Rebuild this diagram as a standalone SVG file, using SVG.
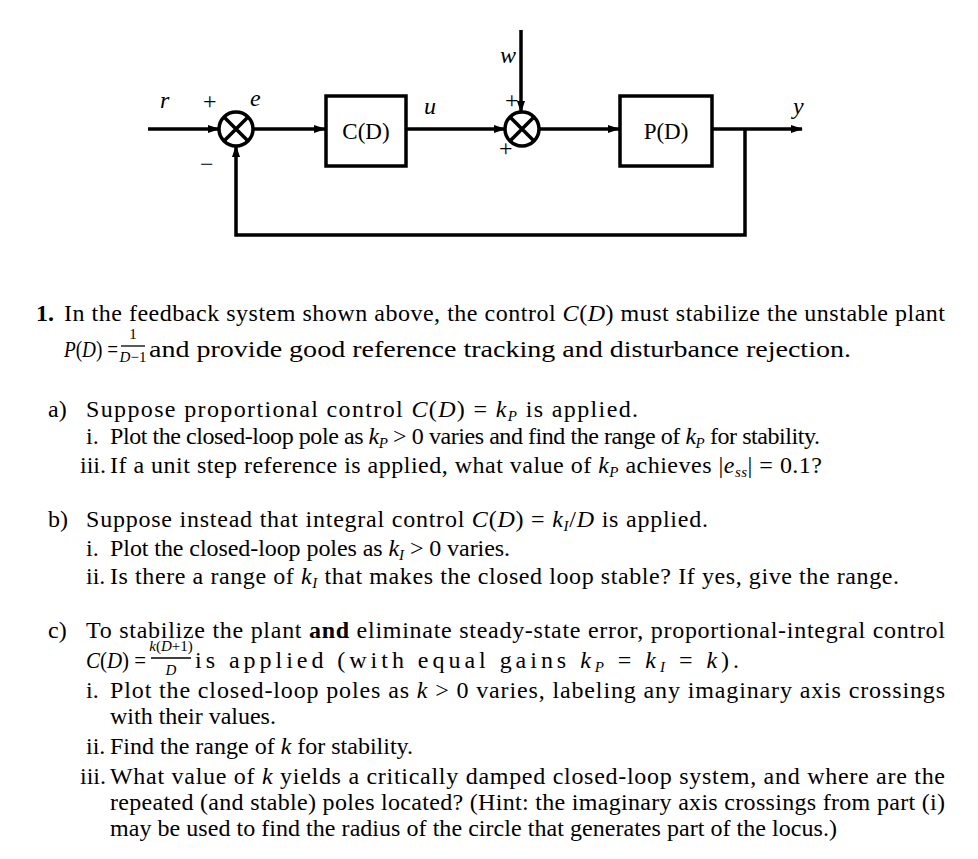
<svg xmlns="http://www.w3.org/2000/svg" width="978" height="859" viewBox="0 0 978 859">
<style>
text{font-family:"Liberation Serif","Times New Roman",serif;font-size:24px;fill:#000}
.m{font-style:italic}
.s{font-size:15px}
.lbl{font-size:23px}
.w{fill:none;stroke:#000;stroke-width:3.5}
</style>
<defs><marker id="a" markerWidth="12" markerHeight="10" refX="11" refY="5" orient="auto" markerUnits="userSpaceOnUse"><path d="M0,1L12,5L0,9z" fill="#000"/></marker></defs>
<rect width="978" height="859" fill="#fff"/>
<g id="sum1"><circle cx="236" cy="129" r="17" class="w"/><path d="M224,117L248,141M248,117L224,141" class="w"/></g>
<g id="sum2"><circle cx="522" cy="129" r="17" class="w"/><path d="M510,117L534,141M534,117L510,141" class="w"/></g>
<g id="C"><rect x="326" y="96" width="80" height="70" class="w" stroke-width="3"/><text x="366" y="139" text-anchor="middle" class="lbl">C(D)</text></g>
<g id="P"><rect x="620" y="96" width="92" height="70" class="w" stroke-width="3"/><text x="666" y="139" text-anchor="middle" class="lbl">P(D)</text></g>
<g id="connectors" class="w">
<path d="M148,129H219" marker-end="url(#a)"/>
<path d="M253,129H325" marker-end="url(#a)"/>
<path d="M406,129H505" marker-end="url(#a)"/>
<path d="M521,30V112" marker-end="url(#a)"/>
<path d="M539,129H619" marker-end="url(#a)"/>
<path d="M712,129H802" marker-end="url(#a)"/>
<path d="M745,129V235H236V146" marker-end="url(#a)"/>
</g>
<g id="labels" class="lbl">
<text x="160" y="108" class="m">r</text><text x="203" y="109">+</text><text x="200" y="172">−</text>
<text x="250" y="106" class="m">e</text>
<text x="424" y="114" class="m">u</text>
<text x="500" y="63" class="m">w</text><text x="505" y="108">+</text><text x="499" y="156">+</text>
<text x="793" y="114" class="m">y</text>
</g>
<g id="text">
<text x="36" y="321"><tspan font-weight="bold">1.</tspan></text>
<text x="64" y="321" textLength="881" lengthAdjust="spacing">In the feedback system shown above, the control <tspan class="m">C</tspan>(<tspan class="m">D</tspan>) must stabilize the unstable plant</text>
<text x="64" y="357" textLength="54" lengthAdjust="spacingAndGlyphs"><tspan class="m">P</tspan>(<tspan class="m">D</tspan>) =</text>
<text x="133" y="339" class="s" text-anchor="middle">1</text>
<line x1="121" y1="346" x2="145" y2="346" stroke="#000" stroke-width="1.3"/>
<text x="133" y="362" class="s m" text-anchor="middle">D<tspan font-style="normal">−1</tspan></text>
<text x="149" y="357" textLength="702" lengthAdjust="spacingAndGlyphs">and provide good reference tracking and disturbance rejection.</text>

<text x="48" y="417">a)</text><text x="86" y="417" textLength="552" lengthAdjust="spacing">Suppose proportional control <tspan class="m">C</tspan>(<tspan class="m">D</tspan>) = <tspan class="m">k<tspan class="s" dy="4">P</tspan></tspan><tspan dy="-4"> is applied.</tspan></text>
<text x="86" y="444">i.</text><text x="110" y="444" textLength="710" lengthAdjust="spacing">Plot the closed-loop pole as <tspan class="m">k<tspan class="s" dy="4">P</tspan></tspan><tspan dy="-4"> &gt; 0 varies and find the range of </tspan><tspan class="m">k<tspan class="s" dy="4">P</tspan></tspan><tspan dy="-4"> for stability.</tspan></text>
<text x="80" y="473">iii.</text><text x="110" y="473" textLength="712" lengthAdjust="spacing">If a unit step reference is applied, what value of <tspan class="m">k<tspan class="s" dy="4">P</tspan></tspan><tspan dy="-4"> achieves |</tspan><tspan class="m">e<tspan class="s" dy="4">ss</tspan></tspan><tspan dy="-4">| = 0.1?</tspan></text>

<text x="48" y="527">b)</text><text x="86" y="527" textLength="622" lengthAdjust="spacing">Suppose instead that integral control <tspan class="m">C</tspan>(<tspan class="m">D</tspan>) = <tspan class="m">k<tspan class="s" dy="4">I</tspan></tspan><tspan dy="-4">/</tspan><tspan class="m">D</tspan> is applied.</text>
<text x="86" y="556">i.</text><text x="110" y="556" textLength="400" lengthAdjust="spacing">Plot the closed-loop poles as <tspan class="m">k<tspan class="s" dy="4">I</tspan></tspan><tspan dy="-4"> &gt; 0 varies.</tspan></text>
<text x="86" y="584">ii.</text><text x="110" y="584" textLength="789" lengthAdjust="spacing">Is there a range of <tspan class="m">k<tspan class="s" dy="4">I</tspan></tspan><tspan dy="-4"> that makes the closed loop stable? If yes, give the range.</tspan></text>

<text x="48" y="638">c)</text><text x="86" y="638" textLength="859" lengthAdjust="spacing">To stabilize the plant <tspan font-weight="bold">and</tspan> eliminate steady-state error, proportional-integral control</text>
<text x="86" y="668" textLength="60" lengthAdjust="spacingAndGlyphs"><tspan class="m">C</tspan>(<tspan class="m">D</tspan>) =</text>
<text x="171" y="651" class="s m" text-anchor="middle">k<tspan font-style="normal">(</tspan>D<tspan font-style="normal">+1)</tspan></text>
<line x1="151" y1="658" x2="191" y2="658" stroke="#000" stroke-width="1.3"/>
<text x="171" y="675" class="s m" text-anchor="middle">D</text>
<text x="195" y="668" textLength="544" lengthAdjust="spacing">is applied (with equal gains <tspan class="m">k<tspan class="s" dy="4">P</tspan></tspan><tspan dy="-4"> = </tspan><tspan class="m">k<tspan class="s" dy="4">I</tspan></tspan><tspan dy="-4"> = </tspan><tspan class="m">k</tspan>).</text>
<text x="86" y="698">i.</text><text x="110" y="698" textLength="835" lengthAdjust="spacing">Plot the closed-loop poles as <tspan class="m">k</tspan> &gt; 0 varies, labeling any imaginary axis crossings</text>
<text x="110" y="724">with their values.</text>
<text x="86" y="754">ii.</text><text x="110" y="754">Find the range of <tspan class="m">k</tspan> for stability.</text>
<text x="80" y="784">iii.</text><text x="110" y="784" textLength="835" lengthAdjust="spacing">What value of <tspan class="m">k</tspan> yields a critically damped closed-loop system, and where are the</text>
<text x="110" y="810" textLength="835" lengthAdjust="spacing">repeated (and stable) poles located? (Hint: the imaginary axis crossings from part (i)</text>
<text x="110" y="836" textLength="727" lengthAdjust="spacing">may be used to find the radius of the circle that generates part of the locus.)</text>
</g>
</svg>
